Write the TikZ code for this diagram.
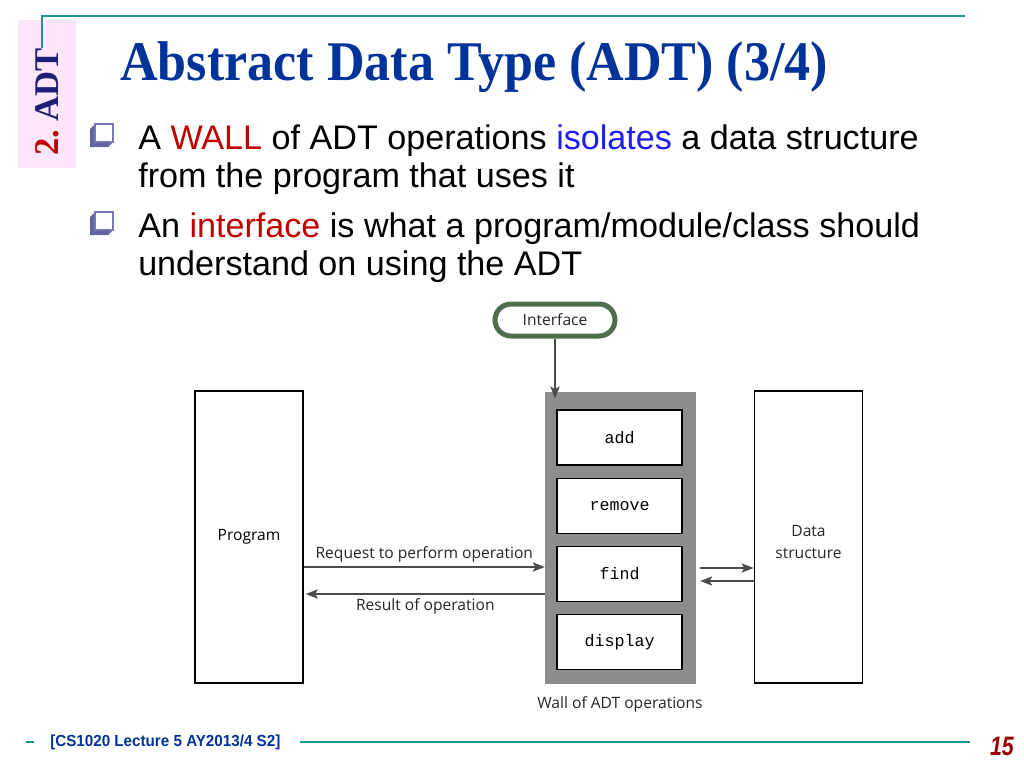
\documentclass[tikz,border=0pt]{standalone}
\usepackage{fontspec}
\usetikzlibrary{arrows.meta}
\setmainfont{Liberation Sans}
\setmonofont{Liberation Mono}
\newfontfamily\titlefont{Liberation Serif}
\newfontfamily\figfont{Open Sans}
\definecolor{lineteal}{RGB}{28,150,146}
\definecolor{titleblue}{RGB}{0,51,153}
\definecolor{navyblue}{RGB}{31,31,122}
\definecolor{wallred}{RGB}{192,0,0}
\definecolor{isoblue}{RGB}{30,30,240}
\definecolor{pinkbg}{RGB}{252,230,250}
\definecolor{bulletfront}{RGB}{120,120,180}
\definecolor{bulletside}{RGB}{100,100,160}
\definecolor{wallgray}{RGB}{140,140,140}
\definecolor{ifgreen}{RGB}{78,110,78}
\definecolor{numred}{RGB}{153,0,0}
\tikzset{
  box/.style={draw, line width=1.3pt, fill=white, minimum width=81pt, minimum height=219pt, font=\figfont\fontsize{11.7}{16}\selectfont, align=center},
  opbox/.style={draw, line width=1.3pt, fill=white, minimum width=93.75pt, minimum height=41.25pt, font=\ttfamily\fontsize{12.5}{14}\selectfont},
  lbl/.style={inner sep=0.75pt, font=\figfont\fontsize{11.7}{17}\selectfont, text=black!85},
  bodytext/.style={anchor=base west, inner sep=0pt, font=\fontsize{25.6}{30}\selectfont},
  arr/.style={-{Stealth[length=9pt,width=7pt,inset=2pt]}, line width=0.9pt, draw=black!70, fill=black},
}
\newcommand{\sqbullet}[2]{%
  \fill[bulletside] (#1+5,#2) -- (#1,#2+5) -- (#1,#2+23) -- (#1+18,#2+23) -- (#1+23,#2+18) -- (#1+5,#2+18) -- cycle;
  \draw[bulletfront, fill=white, line width=1pt] (#1+5,#2) rectangle (#1+23,#2+18);
}
\begin{document}
\begin{tikzpicture}[x=0.75pt,y=0.75pt,yscale=-1,xscale=1]
\useasboundingbox (0,0) rectangle (1024,768);
\fill[white] (0,0) rectangle (1024,768);

%Shapes: side tab
\fill[pinkbg] (18,20) rectangle (76,168);
\draw[lineteal, line width=1.5pt] (42,48) -- (42,16) -- (965,16);
% Text Node
\draw (47,102) node [rotate=90, inner sep=0pt, font=\titlefont\bfseries\fontsize{26}{30}\selectfont] (tab) {\textcolor{wallred}{2.}~\textcolor{navyblue}{ADT}};

% Text Node
\draw (120,80) node [anchor=base west, inner sep=0pt, font=\titlefont\bfseries\fontsize{42}{46}\selectfont, text=titleblue] (title) {\scalebox{0.93}[1]{Abstract Data Type (ADT) (3/4)}};

%Bullets
\sqbullet{90}{124}
\sqbullet{90}{212}
% Text Node
\draw (138,149) node [bodytext] (line1) {A \textcolor{wallred}{WALL} of ADT operations \textcolor{isoblue}{isolates} a data structure};
\draw (138,187) node [bodytext] (line2) {from the program that uses it};
\draw (138,237) node [bodytext] (line3) {An \textcolor{wallred}{interface} is what a program/module/class should};
\draw (138,275) node [bodytext] (line4) {understand on using the ADT};

%Diagram
\node [box] (prog) at (249,537) {Program};
\node [box] (data) at (808.5,537) {};
\node [lbl, align=center] (datatext) at (808.5,542) {Data\\structure};
\node [draw=none, fill=wallgray, minimum width=113.25pt, minimum height=219pt] (wall) at (620.5,538) {};
\foreach \op/\y in {add/437.5,remove/506,find/574,display/642}
  \node [opbox] (op-\op) at (619.5,\y) {\op};
\node [draw=ifgreen, line width=3.75pt, rounded corners=12pt, minimum width=90pt, minimum height=24pt, fill=white, lbl] (iface) at (555,320) {Interface};
\node [lbl] (walllbl) at (620,704) {Wall of ADT operations};

\coordinate (rq) at (0,567);
\coordinate (rs) at (0,594);
\coordinate (dr) at (0,568);
\coordinate (dl) at (0,581);
\draw [arr] (iface.south) -- ([yshift=5pt]iface.south |- wall.north);
\draw [arr] (prog.east |- rq) -- node [lbl, above=2pt] (reqlbl) {Request to perform operation} (wall.west |- rq);
\draw [arr] (wall.west |- rs) -- node [lbl, below=2pt] (reslbl) {Result of operation} ([xshift=1.5pt]prog.east |- rs);
\draw [arr] ([xshift=3pt]wall.east |- dr) -- (data.west |- dr);
\draw [arr] (data.west |- dl) -- ([xshift=3pt]wall.east |- dl);

%Footer
\draw[lineteal, line width=2pt] (26,742) -- (34,742);
\draw (50,742) node [anchor=west, inner sep=0pt, font=\bfseries\fontsize{12}{14}\selectfont, text=titleblue] (foot) {\scalebox{0.95}[1]{[CS1020 Lecture 5 AY2013/4 S2]}};
\draw[lineteal, line width=2pt] (300,742) -- (970,742);
\draw (1014,746) node [anchor=east, inner sep=0pt, font=\bfseries\itshape\fontsize{20}{22}\selectfont, text=numred] (pagenum) {\scalebox{0.8}[1]{15}};

\end{tikzpicture}
\end{document}
